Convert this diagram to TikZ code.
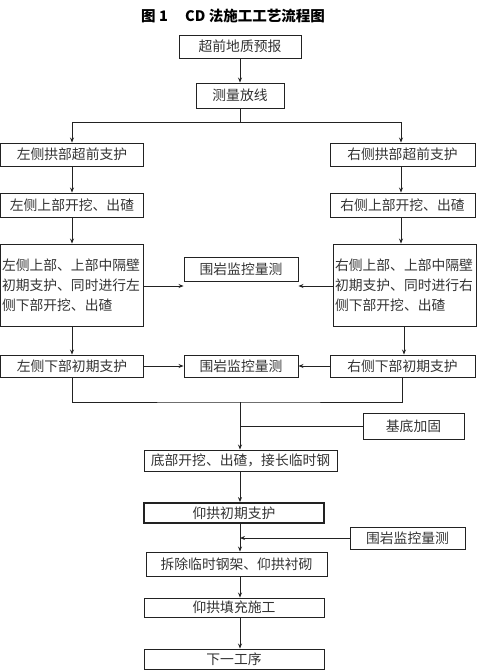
\documentclass[tikz,border=0pt]{standalone}
\usepackage{fontspec}
\newfontfamily\cjk{Noto Sans CJK SC}
\usetikzlibrary{arrows.meta}
\definecolor{ln}{HTML}{222222}
\definecolor{tx}{HTML}{333333}
\tikzset{
  box/.style={draw=ln, line width=0.9pt, inner sep=0pt, text=tx,
    font={\cjk\fontsize{13.8}{20}\selectfont}},
  thickbox/.style={box, line width=1.8pt},
  bigbox/.style={box, inner xsep=1.5pt, text width=140pt, align=left, minimum height=82pt},
  conn/.style={draw=ln, line width=0.9pt},
  arr/.style={conn, -{Stealth[length=5pt,width=4pt]}}
}
\begin{document}
\begin{tikzpicture}[x=1pt,y=-1pt]
\useasboundingbox (0,0) rectangle (479,670);
\node[font={\cjk\bfseries\fontsize{14.5}{16}\selectfont}] (title) at (233,16) {图 1\hspace{1.2em}CD 法施工工艺流程图};
\node[box, minimum width=122pt, minimum height=23pt] (b1) at (240,46.5) {超前地质预报};
\node[box, minimum width=88pt, minimum height=25pt] (b2) at (240,95.5) {测量放线};
\coordinate (sp) at (240,122);
\node[box, minimum width=143pt, minimum height=23pt] (L1) at (72,154.5) {左侧拱部超前支护};
\node[box, minimum width=145pt, minimum height=23pt] (R1) at (402.5,154.5) {右侧拱部超前支护};
\node[box, minimum width=143pt, minimum height=24pt] (L2) at (72,205) {左侧上部开挖、出碴};
\node[box, minimum width=145pt, minimum height=24pt] (R2) at (402.5,205) {右侧上部开挖、出碴};
\node[bigbox] (L3) at (72,285) {左侧上部、上部中隔壁\\初期支护、同时进行左\\侧下部开挖、出碴};
\node[bigbox] (R3) at (405,285) {右侧上部、上部中隔壁\\初期支护、同时进行右\\侧下部开挖、出碴};
\node[box, minimum width=114pt, minimum height=24pt] (M1) at (241,269) {围岩监控量测};
\node[box, minimum width=143pt, minimum height=22pt] (L4) at (72,366) {左侧下部初期支护};
\node[box, minimum width=114pt, minimum height=22pt] (M2) at (241,366) {围岩监控量测};
\node[box, minimum width=145pt, minimum height=22pt] (R4) at (402.5,366) {右侧下部初期支护};
\coordinate (m) at (240,402);
\node[box, minimum width=101pt, minimum height=26pt] (J) at (413.5,426) {基底加固};
\node[box, minimum width=193pt, minimum height=21pt] (B1) at (240.5,460.5) {底部开挖、出碴，接长临时钢};
\node[thickbox, minimum width=180pt, minimum height=20pt] (B2) at (234,513) {仰拱初期支护};
\node[box, minimum width=115pt, minimum height=22pt] (M3) at (407.5,538) {围岩监控量测};
\node[box, minimum width=181pt, minimum height=24pt] (B3) at (236.5,564) {拆除临时钢架、仰拱衬砌};
\node[box, minimum width=180pt, minimum height=19pt] (B4) at (234,607.5) {仰拱填充施工};
\node[box, minimum width=180pt, minimum height=20pt] (B5) at (234,659) {下一工序};
% connectors
\draw[arr] (b1) -- (b2);
\draw[conn] (b2) -- (sp);
\draw[arr] (sp) -| (L1.north);
\draw[arr] (sp) -| ([xshift=-1.5pt]R1.north);
\draw[arr] (L1) -- (L2);
\draw[arr] ([xshift=-1.5pt]R1.south) -- ([xshift=-1.5pt]R2.north);
\draw[arr] (L2) -- (L3);
\draw[arr] ([xshift=-1.5pt]R2.south) -- ([xshift=-1.5pt]R2.south |- R3.north);
\draw[arr] ([yshift=-1pt]L3.east) -- ([yshift=-1pt]L3.east -| M1.west);
\draw[arr] ([yshift=-1pt]R3.west) -- ([yshift=-1pt]R3.west -| M1.east);
\draw[arr] (L3) -- (L4);
\draw[arr] ([xshift=-1pt]R3.south) -- ([xshift=-1pt]R3.south |- R4.north);
\draw[arr] (L4) -- (M2);
\draw[arr] (R4) -- (M2);
\draw[conn] (L4.south) |- (m) -| (R4.south);
\draw[arr] (m) -- (m |- B1.north);
\draw[conn] (J.west) -- (J.west -| m);
\draw[arr] (m |- B1.south) -- (m |- B2.north);
\draw[arr] (m |- B2.south) -- (m |- B3.north);
\draw[arr] (M3.west) -- (M3.west -| m);
\draw[arr] (m |- B3.south) -- (m |- B4.north);
\draw[arr] (m |- B4.south) -- (m |- B5.north);
\end{tikzpicture}
\end{document}
